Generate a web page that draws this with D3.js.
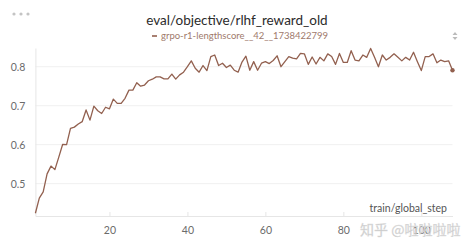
<!DOCTYPE html>
<html>
<head>
<meta charset="utf-8">
<script src="https://cdn.jsdelivr.net/npm/d3@7"></script>
<style>
  body { margin: 0; background: #fff; }
  svg { display: block; font-family: Lato, "Noto Sans", sans-serif; }
</style>
</head>
<body>
<svg id="chart"></svg>
<script>
var width = 474;
var height = 249;

// data
var runName = "grpo-r1-lengthscore__42__1738422799";
var steps = d3.range(1, 109);
var reward = [
  0.424, 0.463, 0.479, 0.525, 0.545, 0.536, 0.568, 0.601, 0.600, 0.642,
  0.645, 0.653, 0.659, 0.689, 0.663, 0.699, 0.687, 0.680, 0.696, 0.692,
  0.717, 0.706, 0.706, 0.719, 0.740, 0.740, 0.759, 0.750, 0.753, 0.764,
  0.768, 0.774, 0.774, 0.769, 0.769, 0.781, 0.768, 0.779, 0.786, 0.800,
  0.815, 0.796, 0.786, 0.803, 0.790, 0.826, 0.830, 0.803, 0.809, 0.798,
  0.804, 0.791, 0.786, 0.812, 0.827, 0.791, 0.813, 0.791, 0.809, 0.813,
  0.808, 0.816, 0.828, 0.800, 0.813, 0.826, 0.822, 0.820, 0.834, 0.833,
  0.806, 0.825, 0.807, 0.824, 0.815, 0.833, 0.826, 0.806, 0.834, 0.811,
  0.811, 0.841, 0.817, 0.815, 0.830, 0.824, 0.847, 0.824, 0.800, 0.830,
  0.817, 0.824, 0.833, 0.824, 0.815, 0.824, 0.817, 0.837, 0.813, 0.790,
  0.826, 0.826, 0.833, 0.810, 0.817, 0.813, 0.815, 0.791
];
var yTicks = [0.5, 0.6, 0.7, 0.8];
var xTicks = [20, 40, 60, 80, 100];

var lineColor = "#92604f";

var svg = d3.select("#chart")
  .attr("width", width)
  .attr("height", height);

var x_scale = d3.scaleLinear().domain([1, 108]).range([35.4, 452.5]);
var y_scale = d3.scaleLinear().domain([0.417, 0.848]).range([216, 48]);

// menu dots
svg.append("g").selectAll("circle")
  .data([0, 1, 2])
  .enter().append("circle")
  .attr("cx", function (d) { return 14 + d * 7; })
  .attr("cy", 14)
  .attr("r", 1.6)
  .attr("fill", "#c4c4c4");

// title
svg.append("text")
  .text("eval/objective/rlhf_reward_old")
  .attr("x", 237)
  .attr("y", 25)
  .attr("text-anchor", "middle")
  .style("font-size", "13.5px")
  .style("fill", "#2b2b2b");

// legend
svg.append("line")
  .attr("x1", 152).attr("x2", 157)
  .attr("y1", 36).attr("y2", 36)
  .attr("stroke", lineColor)
  .attr("stroke-width", 1.6);
svg.append("text")
  .text(runName)
  .attr("x", 161)
  .attr("y", 39)
  .style("font-size", "9.5px")
  .style("fill", "#a07a6c");

// sort arrows icon
svg.append("path")
  .attr("d", "M452.5,35 L455,32 L457.5,35 Z M452.5,37 L455,40 L457.5,37 Z")
  .attr("fill", "#bbb");

// grid lines
svg.append("g").selectAll("line")
  .data(yTicks)
  .enter().append("line")
  .attr("x1", x_scale(1))
  .attr("x2", x_scale(108))
  .attr("y1", function (d) { return y_scale(d); })
  .attr("y2", function (d) { return y_scale(d); })
  .attr("stroke", "#f0f0f0");

// y axis
var y_axis = d3.axisLeft(y_scale).tickValues(yTicks).tickSize(0).tickPadding(10)
  .tickFormat(d3.format(".1f"));
var gy = svg.append("g")
  .attr("transform", "translate(" + x_scale(1) + ",0)")
  .call(y_axis);
gy.select(".domain").attr("stroke", "#e6e6e6");
gy.selectAll("text").style("font-size", "10.5px").style("fill", "#6b6b6b")
  .attr("font-family", "Lato, 'Noto Sans', sans-serif");

// x axis
var x_axis = d3.axisBottom(x_scale).tickValues(xTicks).tickSize(0).tickPadding(11)
  .tickFormat(d3.format("d"));
var gx = svg.append("g")
  .attr("transform", "translate(0,216)")
  .call(x_axis);
gx.select(".domain").attr("stroke", "#e6e6e6");
gx.selectAll("text").style("font-size", "10.5px").style("fill", "#6b6b6b")
  .attr("font-family", "Lato, 'Noto Sans', sans-serif");
gx.selectAll(".tick").append("line")
  .attr("y1", -4).attr("y2", 0)
  .attr("stroke", "#e6e6e6");

svg.append("text")
  .text("train/global_step")
  .attr("x", 447)
  .attr("y", 212)
  .attr("text-anchor", "end")
  .style("font-size", "10.5px")
  .style("fill", "#555");

// the run line
var vizdata = steps.map(function (s, i) { return { step: s, value: reward[i] }; });
var line = d3.line()
  .x(function (d) { return x_scale(d.step); })
  .y(function (d) { return y_scale(d.value); });

svg.append("path")
  .attr("d", line(vizdata))
  .attr("fill", "none")
  .attr("stroke", lineColor)
  .attr("stroke-width", 1.3)
  .attr("stroke-linejoin", "round");

var last = vizdata[vizdata.length - 1];
svg.append("circle")
  .attr("cx", x_scale(last.step))
  .attr("cy", y_scale(last.value))
  .attr("r", 2.2)
  .attr("fill", lineColor);

// watermark
svg.append("text")
  .text("知乎 @啦啦啦啦")
  .attr("x", 360)
  .attr("y", 235)
  .style("font-family", "'Noto Sans CJK SC', sans-serif")
  .style("font-size", "14px")
  .style("fill", "#c9c9c9")
  .style("stroke", "#e0e0e0")
  .style("stroke-width", 0.3);
</script>
</body>
</html>
